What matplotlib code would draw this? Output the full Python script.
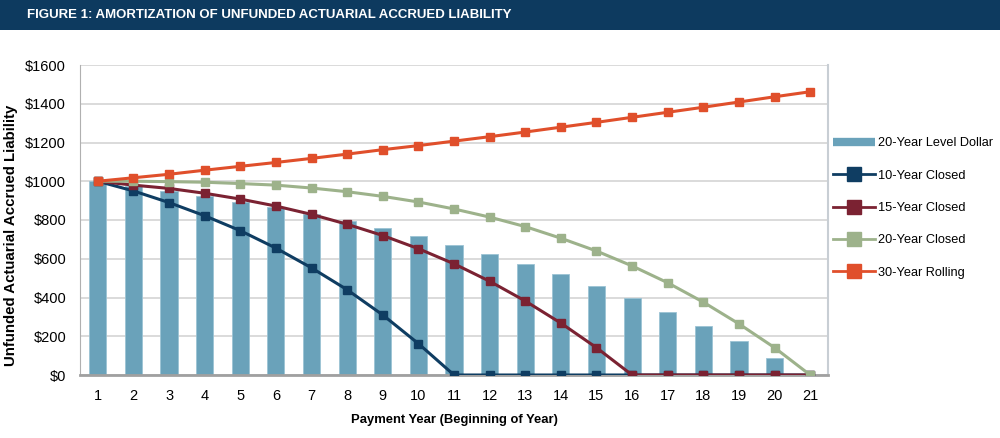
import numpy as np
import matplotlib.pyplot as plt
from matplotlib.lines import Line2D
from matplotlib.patches import Rectangle

plt.rcParams['font.family'] = ['Liberation Sans', 'DejaVu Sans']

# ===== данные =====
years = list(range(1, 22))
level_dollar = [1000, 975, 950, 925, 895, 865, 830, 795, 757, 716, 672, 624,
                574, 519, 459, 397, 326, 255, 175, 89, 0]
closed_10 = [1000, 950, 890, 822, 745, 655, 553, 440, 310, 162, 0, 0,
             0, 0, 0, 0, 0, 0, 0, 0, 0]
closed_15 = [1000, 980, 963, 938, 908, 872, 829, 778, 720, 652, 574, 484,
             382, 268, 141, 0, 0, 0, 0, 0, 0]
closed_20 = [1000, 1000, 998, 995, 988, 980, 965, 946, 922, 893, 857, 815,
             766, 706, 640, 563, 476, 376, 264, 141, 0]
rolling_30 = [1000, 1018, 1036, 1057, 1077, 1097, 1118, 1140, 1163, 1184,
              1207, 1230, 1254, 1279, 1304, 1330, 1356, 1382, 1409, 1436, 1462]
yticks = [0, 200, 400, 600, 800, 1000, 1200, 1400, 1600]
ytick_labels = ["$0", "$200", "$400", "$600", "$800", "$1000", "$1200", "$1400", "$1600"]

# ===== цвета =====
c_bar = "#6aa2ba"
c10 = "#0f3d62"
c15 = "#7b2232"
c20 = "#9db28b"
c30 = "#e04f2b"

fig = plt.figure(figsize=(10, 4.38), dpi=100)

# шапка
fig.patches.append(Rectangle((0, 1 - 30 / 438), 1, 30 / 438, transform=fig.transFigure,
                             facecolor="#0d3a5f", edgecolor="none", zorder=0))
fig.text(0.027, 1 - 15 / 438, "FIGURE 1: AMORTIZATION OF UNFUNDED ACTUARIAL ACCRUED LIABILITY",
         color="white", fontsize=9.5, fontweight="bold", va="center", ha="left")

ax = fig.add_axes([0.08, 63 / 438, 0.748, 310 / 438])

ax.bar(years, level_dollar, width=0.48, color=c_bar, edgecolor="#9cc3d4", linewidth=0.6, zorder=2)
ms = 5.5
lw = 2.2
ax.plot(years, closed_10, color=c10, lw=lw, marker="s", ms=ms, zorder=3)
ax.plot(years, closed_15, color=c15, lw=lw, marker="s", ms=ms, zorder=4)
ax.plot(years, closed_20, color=c20, lw=lw, marker="s", ms=ms, zorder=5)
ax.plot(years, rolling_30, color=c30, lw=lw, marker="s", ms=ms, zorder=6)

ax.set_xlim(0.5, 21.5)
ax.set_ylim(0, 1600)
ax.set_xticks(years)
ax.set_yticks(yticks)
ax.set_yticklabels(ytick_labels)
ax.tick_params(axis="both", length=0, labelsize=10.5)
ax.tick_params(axis="x", pad=10)
ax.tick_params(axis="y", pad=10)
ax.grid(axis="y", color="#d4d4d4", lw=1.2, zorder=0)
ax.set_axisbelow(True)

ax.spines["top"].set_visible(False)
ax.spines["left"].set_color("#b0b0b0")
ax.spines["right"].set_color("#c8ced4")
ax.spines["right"].set_linewidth(1.5)
ax.spines["bottom"].set_color("#a0a0a0")
ax.spines["bottom"].set_linewidth(2)

ax.set_xlabel("Payment Year (Beginning of Year)", fontsize=9.4, fontweight="bold")
ax.xaxis.set_label_coords(0.5, -(420 - 375) / 310, transform=ax.transAxes)
ax.xaxis.label.set_va("center")
ax.set_ylabel("Unfunded Actuarial Accrued Liability", fontsize=10.8, fontweight="bold")
ax.yaxis.set_label_coords(-(80 - 11) / 748, (375 - 235) / 310, transform=ax.transAxes)
ax.yaxis.label.set_va("center")

# легенда
handles = [
    Line2D([], [], color=c_bar, lw=6, solid_capstyle="butt"),
    Line2D([], [], color=c10, lw=2, marker="s", ms=10),
    Line2D([], [], color=c15, lw=2, marker="s", ms=10),
    Line2D([], [], color=c20, lw=2, marker="s", ms=10),
    Line2D([], [], color=c30, lw=2, marker="s", ms=10),
]
labels = ["20-Year Level Dollar", "10-Year Closed", "15-Year Closed", "20-Year Closed", "30-Year Rolling"]
fig.legend(handles, labels, loc="center left", bbox_to_anchor=(0.828, 1 - 208 / 438),
           frameon=False, fontsize=9.2, handlelength=3.3, handletextpad=0.25,
           labelspacing=1.6, borderaxespad=0)

fig.savefig("out.png", dpi=100)
